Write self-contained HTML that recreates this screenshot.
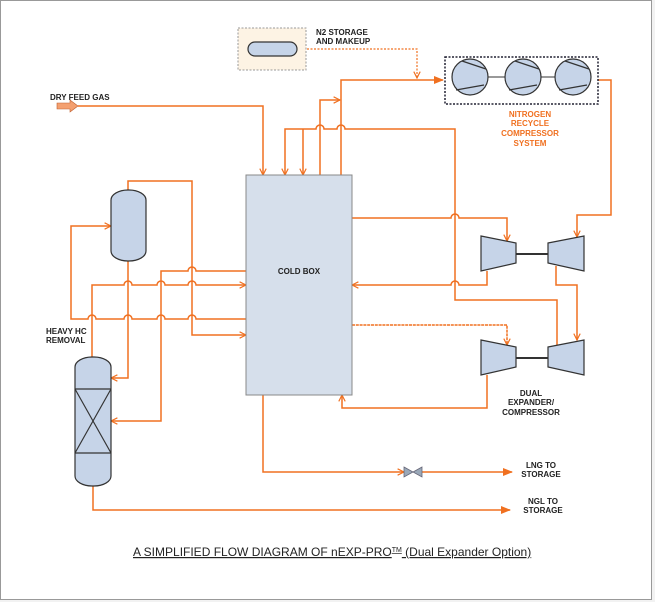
<!DOCTYPE html>
<html><head><meta charset="utf-8"><style>
html,body{margin:0;padding:0;background:#fff;}
svg{display:block;}
text{font-family:"Liberation Sans",Arial,sans-serif;}
.b{font-weight:bold;font-size:8px;fill:#222;}
.o{font-weight:bold;font-size:8px;fill:#f07020;}
</style></head><body>
<svg width="655" height="602" viewBox="0 0 655 602" xmlns="http://www.w3.org/2000/svg">
<defs>
<marker id="a" viewBox="0 0 10 10" refX="9" refY="5" markerWidth="8" markerHeight="8" orient="auto" markerUnits="userSpaceOnUse">
<path d="M1,1 L9,5 L1,9" fill="none" stroke="#f07020" stroke-width="1.5"/></marker>
<marker id="f" viewBox="0 0 10 10" refX="9" refY="5" markerWidth="10" markerHeight="10" orient="auto" markerUnits="userSpaceOnUse">
<path d="M0,1 L10,5 L0,9 z" fill="#f07020"/></marker>
</defs>
<rect x="0" y="0" width="655" height="602" fill="#f2f2f2"/>
<rect x="0.5" y="0.5" width="651" height="599" fill="#fff" stroke="#999" stroke-width="1"/>

<g fill="none" stroke="#f07020" stroke-width="1.5">
<path d="M78,106 H263 V175" marker-end="url(#a)"/>
<path d="M557,345 V300 H455 V129 H345 a4,4 0 0 0 -8,0 H324 a4,4 0 0 0 -8,0 H285 V175" marker-end="url(#a)"/>
<path d="M303,129 V175" marker-end="url(#a)"/>
<path d="M320,175 V100 H340" marker-end="url(#a)"/>
<path d="M341,175 V80 H443" marker-end="url(#f)"/>
<path d="M307,49 H417 V78" stroke-dasharray="2,1.5" stroke-width="1.2" marker-end="url(#a)"/>
<path d="M598,80 H611 V215 H577 V237" marker-end="url(#a)"/>
<path d="M352,218 H451 a4,4 0 0 1 8,0 H507 V241" marker-end="url(#a)"/>
<path d="M487,271 V285 H459 a4,4 0 0 0 -8,0 H352" marker-end="url(#a)"/>
<path d="M556,266 V285 H577 V340" marker-end="url(#a)"/>
<path d="M352,325 H507 V345" stroke-dasharray="3,0.8" marker-end="url(#a)"/>
<path d="M487,375 V408 H342 V395" marker-end="url(#a)"/>
<path d="M263,395 V472 H404" marker-end="url(#a)"/>
<path d="M422,472 H512" marker-end="url(#f)"/>
<path d="M93,486 V510 H510" marker-end="url(#f)"/>
<path d="M128,190 V181 H192 V335 H246" marker-end="url(#a)"/>
<path d="M246,319 H196 a4,4 0 0 0 -8,0 H165 a4,4 0 0 0 -8,0 H132 a4,4 0 0 0 -8,0 H96 a4,4 0 0 0 -8,0 H71 V226 H111" marker-end="url(#a)"/>
<path d="M92,357 V285 H124 a4,4 0 0 1 8,0 H157 a4,4 0 0 1 8,0 H188 a4,4 0 0 1 8,0 H246" marker-end="url(#a)"/>
<path d="M246,271 H196 a4,4 0 0 0 -8,0 H161 V421 H111" marker-end="url(#a)"/>
<path d="M128,261 V378 H111" marker-end="url(#a)"/>
</g>

<rect x="246" y="175" width="106" height="220" fill="#d6dfeb" stroke="#888" stroke-width="1"/>
<text x="299" y="274" class="b" text-anchor="middle">COLD BOX</text>

<rect x="238" y="28" width="68" height="42" fill="#fdf3e4" stroke="#999" stroke-dasharray="2,1.5"/>
<rect x="248" y="42" width="49" height="14" rx="7" fill="#c6d4e8" stroke="#333" stroke-width="1.2"/>
<text x="316" y="35" class="b">N2 STORAGE</text>
<text x="316" y="44" class="b">AND MAKEUP</text>

<rect x="445" y="57" width="153" height="47" fill="none" stroke="#223" stroke-width="1.5" stroke-dasharray="2,1.5"/>
<line x1="488" y1="77" x2="505" y2="77" stroke="#333"/>
<line x1="541" y1="77" x2="555" y2="77" stroke="#333"/>
<g fill="#c6d4e8" stroke="#333" stroke-width="1.2">
<circle cx="470" cy="77" r="18"/><circle cx="523" cy="77" r="18"/><circle cx="573" cy="77" r="18"/>
</g>
<g stroke="#333" stroke-width="1.2">
<line x1="462" y1="61" x2="486" y2="69"/><line x1="456" y1="90" x2="484" y2="85"/>
<line x1="515" y1="61" x2="539" y2="69"/><line x1="509" y1="90" x2="537" y2="85"/>
<line x1="565" y1="61" x2="589" y2="69"/><line x1="559" y1="90" x2="587" y2="85"/>
</g>
<text x="530" y="117" class="o" text-anchor="middle">NITROGEN</text>
<text x="530" y="126" class="o" text-anchor="middle">RECYCLE</text>
<text x="530" y="136" class="o" text-anchor="middle">COMPRESSOR</text>
<text x="530" y="146" class="o" text-anchor="middle">SYSTEM</text>

<g stroke="#333">
<line x1="516" y1="254" x2="548" y2="254" stroke-width="2"/>
<line x1="516" y1="358" x2="548" y2="358" stroke-width="2"/>
</g>
<g fill="#c6d4e8" stroke="#333" stroke-width="1.2">
<polygon points="481,236 516,243 516,263 481,271"/>
<polygon points="548,243 584,236 584,271 548,263"/>
<polygon points="481,340 516,347 516,367 481,375"/>
<polygon points="548,347 584,340 584,375 548,367"/>
</g>
<text x="531" y="396" class="b" text-anchor="middle">DUAL</text>
<text x="531" y="405" class="b" text-anchor="middle">EXPANDER/</text>
<text x="531" y="415" class="b" text-anchor="middle">COMPRESSOR</text>

<rect x="111" y="190" width="35" height="71" rx="17" ry="10" fill="#c6d4e8" stroke="#333" stroke-width="1.2"/>
<rect x="75" y="357" width="36" height="129" rx="17" ry="10" fill="#c6d4e8" stroke="#333" stroke-width="1.2"/>
<g stroke="#333" stroke-width="1.2">
<line x1="75" y1="389" x2="111" y2="389"/><line x1="75" y1="453" x2="111" y2="453"/>
<line x1="75" y1="389" x2="111" y2="453"/><line x1="111" y1="389" x2="75" y2="453"/>
</g>
<text x="46" y="334" class="b">HEAVY HC</text>
<text x="46" y="343" class="b">REMOVAL</text>

<polygon points="57,103 70,103 70,100 78,106 70,112 70,109 57,109" fill="#f4a070" stroke="#c06030" stroke-width="0.6"/>
<text x="50" y="100" class="b">DRY FEED GAS</text>

<polygon points="404,467 413,472 404,477" fill="#9aa8b8" stroke="#667" stroke-width="0.8"/>
<polygon points="422,467 413,472 422,477" fill="#9aa8b8" stroke="#667" stroke-width="0.8"/>

<text x="541" y="468" class="b" text-anchor="middle">LNG TO</text>
<text x="541" y="477" class="b" text-anchor="middle">STORAGE</text>
<text x="543" y="504" class="b" text-anchor="middle">NGL TO</text>
<text x="543" y="513" class="b" text-anchor="middle">STORAGE</text>

<text x="133" y="556" style="font-size:12px;fill:#222;text-decoration:underline;">A SIMPLIFIED FLOW DIAGRAM OF nEXP-PRO<tspan dy="-4" style="font-size:7px">TM</tspan><tspan dy="4"> (Dual Expander Option)</tspan></text>
</svg>
</body></html>
